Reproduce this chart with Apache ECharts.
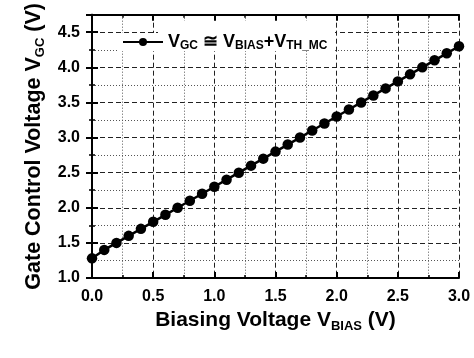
<!DOCTYPE html>
<html><head><meta charset="utf-8">
<script src="https://cdn.jsdelivr.net/npm/echarts@6/dist/echarts.min.js"></script>
<style>html,body{margin:0;padding:0;background:#fff}#c{width:474px;height:358px}</style>
</head><body><div id="c"></div>
<script>
const vBias = [0.0,0.1,0.2,0.3,0.4,0.5,0.6,0.7,0.8,0.9,1.0,1.1,1.2,1.3,1.4,1.5,1.6,1.7,1.8,1.9,2.0,2.1,2.2,2.3,2.4,2.5,2.6,2.7,2.8,2.9,3.0];
const vGC = [1.28,1.40,1.50,1.60,1.70,1.80,1.90,2.00,2.10,2.20,2.30,2.40,2.50,2.60,2.70,2.80,2.90,3.00,3.10,3.20,3.30,3.40,3.50,3.60,3.70,3.80,3.90,4.00,4.10,4.20,4.30];
const xTicks = ['0.0','0.5','1.0','1.5','2.0','2.5','3.0'];
const yTicks = ['1.0','1.5','2.0','2.5','3.0','3.5','4.0','4.5'];

const F = 'Liberation Sans, Arial, sans-serif';
const chart = echarts.init(document.getElementById('c'));
const gridLine = {show:true, lineStyle:{color:'#222', width:1, type:[5,3]}};
const minorLine = {show:true, lineStyle:{color:'#555', width:1, type:[1,2]}};
const common = {
  axisLine:{show:true, lineStyle:{color:'#000', width:2}},
  axisTick:{show:true, inside:true, length:6, lineStyle:{color:'#000', width:2}},
  minorTick:{show:true, splitNumber:2, length:3, lineStyle:{color:'#000', width:1.5}},
};
chart.setOption({
  animation:false,
  backgroundColor:'#fff',
  grid:{left:92, right:15, top:11, bottom:80, containLabel:false},
  graphic:[
    {type:'rect', z:1, silent:true, shape:{x:118, y:33, width:217, height:18}, style:{fill:'#fff'}},
    {type:'rect', z:1, silent:true, shape:{x:158, y:21, width:177, height:14}, style:{fill:'#fff'}}
  ],
  legend:{
    left:118, top:30, padding:[3,4,3,4],
    itemWidth:40, itemHeight:10, itemGap:4, z:10,
    data:[{name:'vgc'}],
    formatter:()=>'{v|V}{s|GC}{v| ≅ V}{s|BIAS}{v|+V}{s|TH_MC}',
    textStyle:{rich:{
      v:{fontFamily:F, fontWeight:'bold', fontSize:18, color:'#000'},
      s:{fontFamily:F, fontWeight:'bold', fontSize:12, color:'#000', padding:[8,0,0,0]}
    }}
  },
  xAxis:[{
    type:'value', min:0, max:3, interval:0.5,
    ...common,
    splitLine:gridLine, minorSplitLine:minorLine,
    axisLabel:{fontFamily:F, fontWeight:'bold', fontSize:16, color:'#000', margin:11,
      formatter:(v)=>xTicks[Math.round(v/0.5)]},
    name:'{t|Biasing Voltage V}{s|BIAS}{t| (V)}', nameLocation:'middle', nameGap:28,
    nameTextStyle:{rich:{
      t:{fontFamily:F, fontWeight:'bold', fontSize:21, color:'#000'},
      s:{fontFamily:F, fontWeight:'bold', fontSize:13, color:'#000', padding:[13,0,0,0]}
    }}
  },{
    type:'value', min:0, max:3, interval:0.5, position:'top',
    ...common, axisLabel:{show:false}, splitLine:{show:false}
  }],
  yAxis:[{
    type:'value', min:1, max:4.75, interval:0.5,
    ...common,
    splitLine:gridLine, minorSplitLine:minorLine,
    axisLabel:{fontFamily:F, fontWeight:'bold', fontSize:16, color:'#000', margin:12, showMaxLabel:false,
      formatter:(v)=>{const i=Math.round((v-1)/0.5); return Math.abs(v-1-i*0.5)<1e-6 ? yTicks[i] : '';}},
    name:'{t|Gate Control Voltage V}{s|GC}{t| (V)}', nameLocation:'middle', nameGap:40, nameRotate:90,
    nameTextStyle:{rich:{
      t:{fontFamily:F, fontWeight:'bold', fontSize:21.5, color:'#000'},
      s:{fontFamily:F, fontWeight:'bold', fontSize:13, color:'#000', padding:[13,0,0,0]}
    }}
  },{
    type:'value', min:1, max:4.75, interval:0.5, position:'right',
    ...common, axisLabel:{show:false}, splitLine:{show:false}
  }],
  series:[{
    name:'vgc', type:'line',
    data:vBias.map((x,i)=>[x,vGC[i]]),
    symbol:'circle', symbolSize:10.5,
    lineStyle:{color:'#000', width:2.5},
    itemStyle:{color:'#000'},
    z:5
  }]
});
</script></body></html>
